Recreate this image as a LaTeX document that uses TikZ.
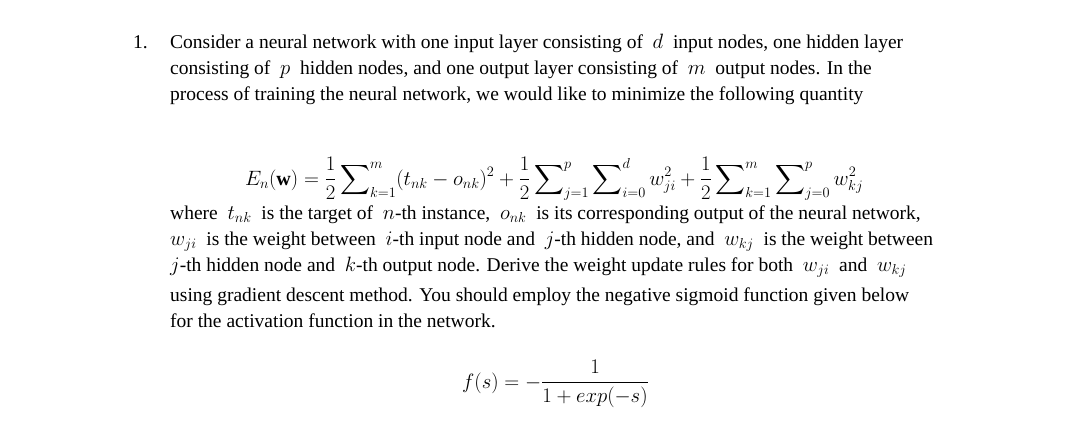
\documentclass[tikz,border=0pt]{standalone}
\usepackage{fontspec}
\setmainfont{Liberation Serif}
\usepackage{amsmath}
\begin{document}
\begin{tikzpicture}[x=1pt,y=-1pt,
  txt/.style={anchor=base west,inner sep=0pt,font=\fontsize{19.5}{26}\selectfont},
  mth/.style={anchor=base west,inner sep=0pt,font=\fontsize{20}{26}\selectfont}]
\useasboundingbox (0,0) rectangle (1080,440);
\node[txt] (n1) at (133,48) {1.};
\node[txt] (l1) at (170,48) {Consider a neural network with one input layer consisting of \ $d$ \ input nodes, one hidden layer};
\node[txt] (l2) at (170,74) {consisting of \ $p$ \ hidden nodes, and one output layer consisting of \ $m$ \ output nodes. In the};
\node[txt] (l3) at (170,100) {process of training the neural network, we would like to minimize the following quantity};
\node[mth] (eq) at (245,185) {$\displaystyle E_n(\mathbf{w}) = \frac{1}{2}\sum\nolimits_{k=1}^{m}(t_{nk}-o_{nk})^2+\frac{1}{2}\sum\nolimits_{j=1}^{p}\sum\nolimits_{i=0}^{d} w_{ji}^2+\frac{1}{2}\sum\nolimits_{k=1}^{m}\sum\nolimits_{j=0}^{p} w_{kj}^2$};
\node[txt] (l4) at (170,219) {where \ $t_{nk}$ \ is the target of \ $n$-th instance, \ $o_{nk}$ \ is its corresponding output of the neural network,};
\node[txt] (l5) at (170,245) {$w_{ji}$ \ is the weight between \ $i$-th input node and \ $j$-th hidden node, and \ $w_{kj}$ \ is the weight between};
\node[txt] (l6) at (170,271) {$j$-th hidden node and \ $k$-th output node. Derive the weight update rules for both \ $w_{ji}$ \ and \ $w_{kj}$};
\node[txt] (l7) at (170,301) {using gradient descent method. You should employ the negative sigmoid function given below};
\node[txt] (l8) at (170,327) {for the activation function in the network.};
\node[mth] (f) at (462,388) {$\displaystyle f(s) = -\frac{1}{1+exp(-s)}$};
\end{tikzpicture}
\end{document}
